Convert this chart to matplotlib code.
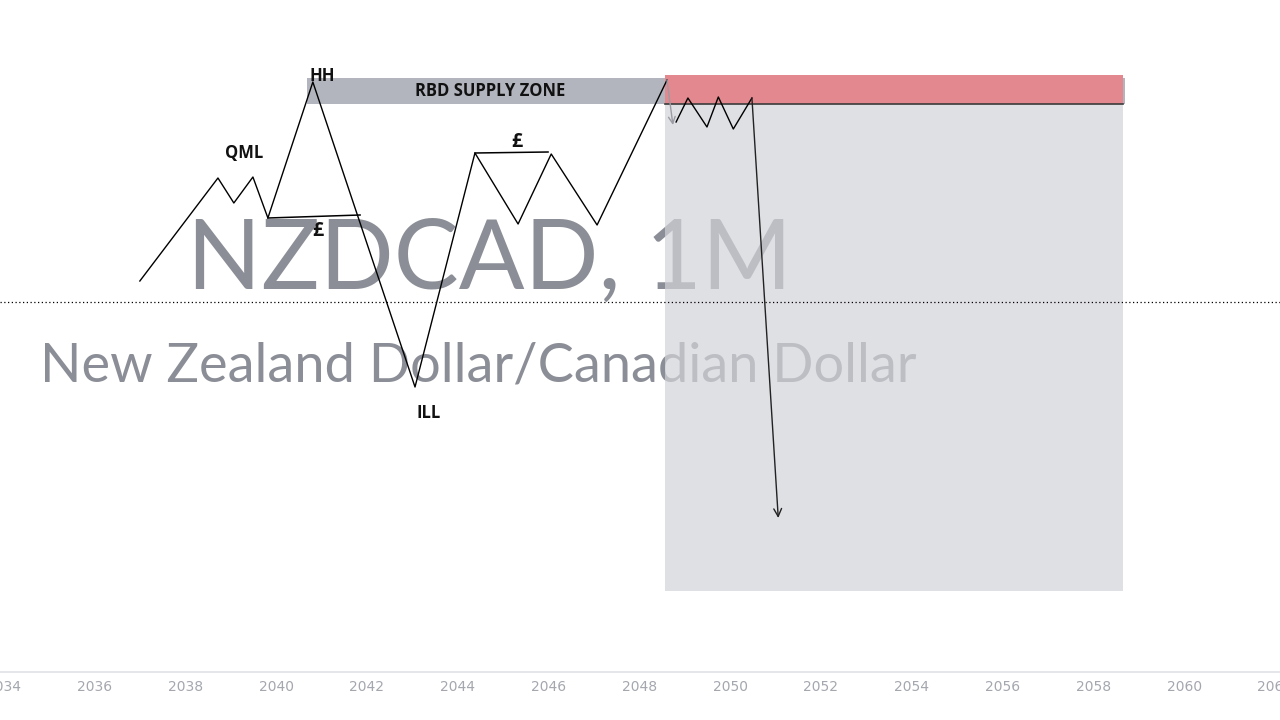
import matplotlib
matplotlib.use("Agg")
import matplotlib.pyplot as plt
from matplotlib.patches import Rectangle

# ---- data (x in years, y in chart price units) ----
path_x = [2037.00, 2038.72, 2039.07, 2039.49, 2039.82, 2040.81, 2043.06,
          2044.38, 2045.33, 2046.06, 2047.07, 2048.61]
path_y = [391, 494, 469, 495, 454, 590, 285, 519, 448, 518, 447, 592]

proj_x = [2048.81, 2049.07, 2049.49, 2049.74, 2050.07, 2050.48]
proj_y = [550, 574, 545, 575, 543, 574]
target_x, target_y = 2051.06, 154

ghost_start = (2048.61, 592)
ghost_end = (2048.74, 547)

bos1_x = [2039.82, 2041.85]
bos1_y = [454, 457]
bos2_x = [2044.38, 2045.99]
bos2_y = [519, 520]

zone_x = (2040.68, 2058.70)
zone_y = (568, 594)
red_x = (2048.57, 2058.66)
red_y = (568, 597)
box_x = (2048.57, 2058.66)
box_y = (81, 568)
hline_y = 370

labels = ["HH", "QML", "£", "£", "ILL", "RBD SUPPLY ZONE"]
label_x = [2041.01, 2039.30, 2040.93, 2045.31, 2043.35, 2044.71]
label_y = [596, 519, 441, 530, 259, 581]

tick_years = list(range(2034, 2063, 2))
xlim = (2033.92, 2062.11)
ylim = (0, 672)

# ---- figure ----
fig = plt.figure(figsize=(12.8, 7.2), dpi=100)
fig.patch.set_facecolor("white")
ax = fig.add_axes([0, 48 / 720, 1, 672 / 720])
ax.set_xlim(*xlim)
ax.set_ylim(*ylim)
ax.set_facecolor("none")
for s in ["top", "left", "right"]:
    ax.spines[s].set_visible(False)
ax.spines["bottom"].set_color("#e0e2e6")
ax.spines["bottom"].set_linewidth(1.2)
ax.set_yticks([])
ax.set_xticks(tick_years)
ax.set_xticklabels([str(t) for t in tick_years],
                   family=["Liberation Sans Narrow", "DejaVu Sans"],
                   fontsize=10, color="#a4a7ae")
ax.tick_params(axis="x", length=0, pad=6)

# watermark (inside axes so that the box can sit over it)
wm = "#8b8e96"
ax.text(187 / 1280, 1 - 289 / 720, "NZDCAD, 1M", ha="left", va="baseline",
        fontsize=70, color=wm, family="Lato", zorder=0, transform=fig.transFigure)
ax.text(40 / 1280, 1 - 382 / 720, "New Zealand Dollar/Canadian Dollar",
        ha="left", va="baseline", fontsize=39, color=wm, family="Lato", zorder=0,
        transform=fig.transFigure)

# big projection box
ax.add_patch(Rectangle((box_x[0], box_y[0]), box_x[1] - box_x[0], box_y[1] - box_y[0],
                       facecolor="#d2d3d9", alpha=0.7, edgecolor="none", zorder=2))
# supply zone
ax.add_patch(Rectangle((zone_x[0], zone_y[0]), zone_x[1] - zone_x[0], zone_y[1] - zone_y[0],
                       facecolor="#b2b5bd", edgecolor="none", zorder=3))
ax.add_patch(Rectangle((red_x[0], red_y[0]), red_x[1] - red_x[0], red_y[1] - red_y[0],
                       facecolor="#e4888f", edgecolor="none", zorder=3.5))
ax.plot([red_x[0], red_x[1]], [red_y[0], red_y[0]], color="#3a3a3a", lw=1.2, zorder=4)

# dotted line
ax.axhline(hline_y, color="black", lw=0.9, ls=(0, (1, 2)), zorder=4)

# price path
ax.plot(path_x, path_y, color="black", lw=1.0, zorder=5)
ax.plot(bos1_x, bos1_y, color="black", lw=1.1, zorder=5)
ax.plot(bos2_x, bos2_y, color="black", lw=1.1, zorder=5)
ax.plot(proj_x, proj_y, color="black", lw=1.0, zorder=5)
ax.annotate("", xy=(target_x, target_y), xytext=(proj_x[-1], proj_y[-1]),
            arrowprops=dict(arrowstyle="->", color="#222222", lw=1.0,
                            shrinkA=0, shrinkB=0, mutation_scale=14), zorder=5)
ax.annotate("", xy=ghost_end, xytext=ghost_start,
            arrowprops=dict(arrowstyle="->", color="#9a9ca4", lw=1.0,
                            shrinkA=0, shrinkB=0, mutation_scale=12), zorder=5)

# labels
for t, x, y in zip(labels, label_x, label_y):
    fs = 12 if t != "£" else 14
    ax.text(x, y, t, ha="center", va="center", fontsize=fs, fontweight="bold",
            color="#111111", family=["Open Sans", "DejaVu Sans"], zorder=6)

fig.savefig("out.png", dpi=100)
